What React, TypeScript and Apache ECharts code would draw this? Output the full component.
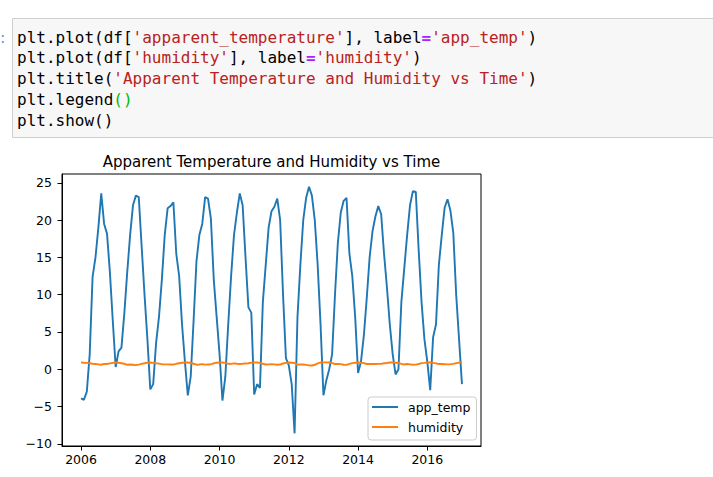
import React, { useEffect, useRef } from 'react';
import * as echarts from 'echarts';

// first monthly sample: end of December 2005, then one sample per month-end
const startYear = 2005;
const startMonth = 12;

const appTemp = [
  -3.9,
  -4.1, -3.0, 2.0, 12.4, 15.0, 19.0, 23.6, 19.5, 18.2, 13.0, 6.5, 0.3,
  2.4, 2.9, 7.5, 13.0, 18.0, 22.0, 23.3, 23.1, 16.5, 10.0, 4.0, -2.7,
  -2.0, 3.5, 7.0, 12.0, 18.0, 21.6, 21.9, 22.4, 15.5, 12.5, 6.0, 1.0,
  -3.5, -1.0, 6.5, 14.5, 18.0, 19.5, 23.1, 22.9, 20.2, 12.0, 7.0, 2.0,
  -4.2, -1.0, 6.0, 12.5, 18.0, 21.0, 23.6, 22.0, 15.0, 8.3, 7.6, -3.4,
  -2.0, -2.5, 9.0, 14.0, 19.0, 21.2, 21.8, 22.9, 20.0, 10.0, 1.5, 0.5,
  -2.0, -8.6, 7.0, 14.0, 20.0, 23.0, 24.5, 23.3, 20.0, 14.0, 6.0, -3.5,
  -1.5, 0.0, 2.0, 10.0, 17.0, 21.0, 22.6, 23.0, 15.5, 12.5, 7.0, -0.5,
  1.0, 4.5, 9.5, 15.0, 18.5, 20.5, 21.9, 20.8, 15.5, 11.0, 6.0, 2.0,
  -0.7, 0.0, 9.0, 13.5, 18.0, 22.0, 23.9, 23.8, 16.0, 9.0, 4.0, 1.0,
  -2.8, 4.3, 6.0, 14.0, 18.0, 21.7, 22.8, 21.3, 18.3, 10.0, 4.0, -2.0,
];

const humidity = [
  0.92,
  0.88, 0.85, 0.80, 0.73, 0.70, 0.66, 0.60, 0.72, 0.70, 0.78, 0.86, 0.90,
  0.87, 0.80, 0.73, 0.60, 0.63, 0.60, 0.55, 0.62, 0.72, 0.80, 0.88, 0.90,
  0.86, 0.80, 0.75, 0.68, 0.66, 0.65, 0.64, 0.63, 0.73, 0.80, 0.87, 0.90,
  0.90, 0.84, 0.74, 0.61, 0.63, 0.68, 0.62, 0.64, 0.66, 0.80, 0.88, 0.91,
  0.90, 0.86, 0.73, 0.72, 0.79, 0.73, 0.70, 0.73, 0.78, 0.80, 0.88, 0.92,
  0.90, 0.86, 0.74, 0.64, 0.66, 0.68, 0.66, 0.61, 0.63, 0.77, 0.85, 0.90,
  0.88, 0.84, 0.62, 0.66, 0.64, 0.58, 0.52, 0.50, 0.60, 0.78, 0.90, 0.92,
  0.92, 0.90, 0.82, 0.70, 0.72, 0.68, 0.60, 0.58, 0.72, 0.82, 0.88, 0.90,
  0.88, 0.82, 0.70, 0.70, 0.72, 0.70, 0.72, 0.72, 0.80, 0.84, 0.90, 0.92,
  0.88, 0.84, 0.72, 0.64, 0.70, 0.66, 0.60, 0.62, 0.70, 0.82, 0.86, 0.91,
  0.92, 0.86, 0.78, 0.70, 0.70, 0.68, 0.66, 0.68, 0.72, 0.82, 0.88, 0.92,
];

const seriesNames = ['app_temp', 'humidity'];
const seriesColors = ['#1f77b4', '#ff7f0e'];
const xTicks = [2006, 2008, 2010, 2012, 2014, 2016];
const yTicks = [-10, -5, 0, 5, 10, 15, 20, 25];
const chartTitle = 'Apparent Temperature and Humidity vs Time';

// code cell text, split into highlighted tokens: [text, kind]
const codeLines: [string, string][][] = [
  [['plt.plot(df[', 'n'], ["'apparent_temperature'", 's'], ['], label', 'n'], ['=', 'o'], ["'app_temp'", 's'], [')', 'n']],
  [['plt.plot(df[', 'n'], ["'humidity'", 's'], ['], label', 'n'], ['=', 'o'], ["'humidity'", 's'], [')', 'n']],
  [['plt.title(', 'n'], ["'Apparent Temperature and Humidity vs Time'", 's'], [')', 'n']],
  [['plt.legend', 'n'], ['()', 'g']],
  [['plt.show()', 'n']],
];

const tokenColor: Record<string, string> = { n: '#000000', s: '#BA2121', o: '#AA22FF', g: '#00bb00' };

function monthEndYear(i: number): number {
  const total = startYear * 12 + (startMonth - 1) + i;
  const y = Math.floor(total / 12);
  const m = (total % 12) + 1;
  return y + m / 12;
}

function fmtTick(v: number): string {
  return v < 0 ? '\u2212' + Math.abs(v) : String(v);
}

export default function App() {
  const ref = useRef<HTMLDivElement>(null);
  useEffect(() => {
    if (!ref.current) return;
    const chart = echarts.init(ref.current, undefined, { renderer: 'svg' });

    const charW = 9.633;
    const codeX = 17;
    const codeY0 = 37;
    const codeDY = 20.75;
    const codeGraphics: any[] = [];
    codeGraphics.push({
      type: 'rect',
      shape: { x: 12.5, y: 18.5, width: 720, height: 119 },
      style: { fill: '#f7f7f7', stroke: '#cfcfcf', lineWidth: 1 },
      silent: true,
    });
    codeGraphics.push({
      type: 'text',
      x: 0,
      y: codeY0,
      style: { text: ':', font: '16px "DejaVu Sans"', fill: '#5b9bd5', verticalAlign: 'middle' },
    });
    codeLines.forEach((line, li) => {
      let col = 0;
      line.forEach(([txt, kind]) => {
        codeGraphics.push({
          type: 'text',
          x: codeX + col * charW,
          y: codeY0 + li * codeDY,
          style: {
            text: txt,
            font: (kind === 'o' ? 'bold ' : '') + '16px "DejaVu Sans Mono"',
            fill: tokenColor[kind],
            verticalAlign: 'middle',
          },
        });
        col += txt.length;
      });
    });

    const tempData = appTemp.map((v, i) => [monthEndYear(i), v]);
    const humData = humidity.map((v, i) => [monthEndYear(i), v]);

    const axisFont = { fontSize: 12.5, color: '#000', fontFamily: 'DejaVu Sans' };

    chart.setOption({
      animation: false,
      grid: {
        left: 62,
        top: 174,
        width: 419,
        height: 272,
        show: true,
        borderColor: '#000',
        borderWidth: 1,
        backgroundColor: 'transparent',
      },
      xAxis: {
        type: 'value',
        min: 2005.45,
        max: 2017.55,
        splitLine: { show: false },
        axisLine: { show: true, onZero: false, lineStyle: { color: '#000', width: 1 } },
        axisTick: { show: true, length: 4.5, customValues: xTicks, lineStyle: { color: '#000', width: 1 } },
        axisLabel: { customValues: xTicks, margin: 7, formatter: (v: number) => String(v), ...axisFont },
      },
      yAxis: {
        type: 'value',
        min: -10.3,
        max: 26.2,
        splitLine: { show: false },
        axisLine: { show: true, onZero: false, lineStyle: { color: '#000', width: 1 } },
        axisTick: { show: true, length: 4.5, customValues: yTicks, lineStyle: { color: '#000', width: 1 } },
        axisLabel: { customValues: yTicks, margin: 10, formatter: fmtTick, ...axisFont },
      },
      legend: {
        data: seriesNames,
        orient: 'vertical',
        left: 368,
        top: 397,
        padding: [3, 6, 6, 4],
        itemGap: 6,
        itemWidth: 26,
        itemHeight: 2,
        icon: 'rect',
        borderColor: '#cccccc',
        borderWidth: 1,
        borderRadius: 3,
        backgroundColor: 'rgba(255,255,255,0.8)',
        textStyle: { fontSize: 12.5, lineHeight: 14, color: '#000', fontFamily: 'DejaVu Sans', padding: [0, 0, 0, 5] },
      },
      graphic: [
        ...codeGraphics,
        {
          type: 'text',
          x: 271.5,
          y: 161.5,
          style: {
            text: chartTitle,
            font: '15px "DejaVu Sans"',
            fill: '#000',
            align: 'center',
            verticalAlign: 'middle',
          },
        },
      ],
      series: [
        {
          name: seriesNames[0],
          type: 'line',
          data: tempData,
          showSymbol: false,
          lineStyle: { color: seriesColors[0], width: 1.9 },
          itemStyle: { color: seriesColors[0] },
        },
        {
          name: seriesNames[1],
          type: 'line',
          data: humData,
          showSymbol: false,
          lineStyle: { color: seriesColors[1], width: 1.9 },
          itemStyle: { color: seriesColors[1] },
        },
      ],
    });
    return () => chart.dispose();
  }, []);
  return <div ref={ref} style={{ position: 'absolute', left: 0, top: 0, width: 713, height: 477 }} />;
}
